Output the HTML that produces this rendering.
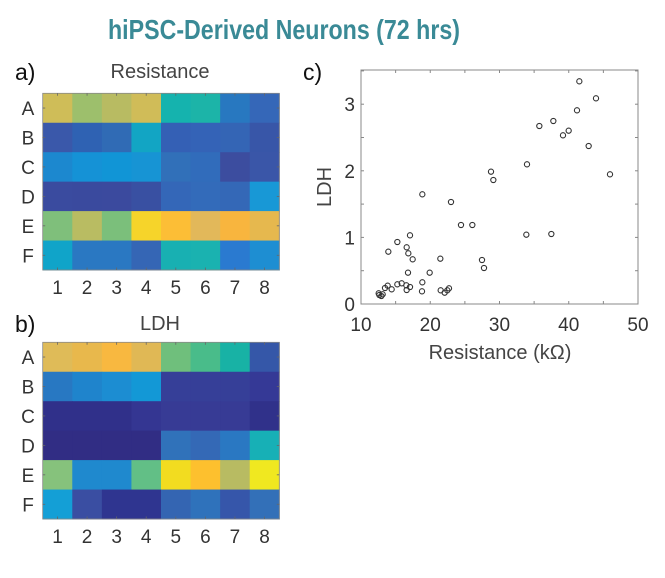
<!DOCTYPE html>
<html><head><meta charset="utf-8"><style>
body{margin:0;background:#fff;}
svg{display:block;font-family:"Liberation Sans",sans-serif;}
</style></head><body>
<svg width="665" height="578" xmlns="http://www.w3.org/2000/svg">
<text x="108" y="39" font-size="28" font-weight="bold" fill="#3a8a96" textLength="352" lengthAdjust="spacingAndGlyphs">hiPSC-Derived Neurons (72 hrs)</text>
<text x="15" y="80" font-size="23" fill="#111">a)</text>
<text x="160" y="78" font-size="20" fill="#444" text-anchor="middle">Resistance</text>
<text x="15" y="332" font-size="23" fill="#111">b)</text>
<text x="160" y="330" font-size="20" fill="#444" text-anchor="middle">LDH</text>
<text x="303" y="80" font-size="23" fill="#111">c)</text>
<g id="hm"></g>
<g id="sc"></g>
</svg>
<script>
const R=[["#cfbd58","#9dbf6c","#b8bb62","#d0bc58","#15b3ae","#1cb4a8","#2878c0","#3567b8"],
["#3a58aa","#2f62b3","#306bb5","#12a5c4","#3460b5","#3463b7","#3465b5","#3856a8"],
["#1c88cf","#1592d6","#1195d6","#1794d4","#3170b9","#316cbb","#3c4d9f","#3a56a8"],
["#3a4b9f","#3a4a9e","#3b4a9e","#3950a2","#3467b8","#336bba","#3468b7","#1898d6"],
["#7fbf7b","#b9bc62","#7bbf7b","#f6d42a","#fcbe36","#e2b85a","#f8b53e","#e6b84e"],
["#10a4c9","#2a78c2","#2a78c2","#3566b5","#18b0b2","#1ab2b0","#2a7ad0","#1e8ed2"]];
const L=[["#dfbb58","#e8b84c","#f8b840","#e0b855","#6fbf7c","#49bc8a","#18b2a5","#3557a8"],
["#2878c2","#1f84cc","#1c8dd2","#1398d6","#363f98","#363f98","#363f98","#353996"],
["#30308a","#30308a","#30308a","#343692","#373b95","#373b95","#373b95","#30318a"],
["#312d84","#312d84","#312d84","#312d84","#3072ba","#3469b6","#2a78c2","#17b0b6"],
["#86c27c","#1f89ce","#1f89ce","#62bf86","#f2dc20","#fdc02e","#b8bb62","#f0e820"],
["#149fd6","#3a4ea2","#2f3590","#2f3590","#3465b2","#2f72bb","#3656aa","#3370b8"]];
let h="";
function hm(C,x0,y0,x1,y1){const cw=(x1-x0)/8,rh=(y1-y0)/6;
for(let r=0;r<6;r++)for(let c=0;c<8;c++)h+=`<rect x="${x0+c*cw}" y="${y0+r*rh}" width="${cw+0.5}" height="${rh+0.5}" fill="${C[r][c]}"/>`;
h+=`<rect x="${x0}" y="${y0}" width="${x1-x0}" height="${y1-y0}" fill="none" stroke="#888" stroke-width="0.8"/>`;
for(let c=0;c<8;c++){const x=x0+(c+0.5)*cw;h+=`<line x1="${x}" y1="${y0}" x2="${x}" y2="${y0+2.5}" stroke="#666" stroke-width="0.8"/><line x1="${x}" y1="${y1}" x2="${x}" y2="${y1-2.5}" stroke="#666" stroke-width="0.8"/>`;}
for(let r=0;r<6;r++){const y=y0+(r+0.5)*rh;h+=`<line x1="${x0}" y1="${y}" x2="${x0+2.5}" y2="${y}" stroke="#666" stroke-width="0.8"/><line x1="${x1}" y1="${y}" x2="${x1-2.5}" y2="${y}" stroke="#666" stroke-width="0.8"/>`;}
"ABCDEF".split("").forEach((l,i)=>h+=`<text x="28" y="${y0+(i+0.5)*rh+7}" font-size="19" fill="#333" text-anchor="middle">${l}</text>`);
for(let c=0;c<8;c++)h+=`<text x="${x0+(c+0.5)*cw}" y="${y1+24}" font-size="19" fill="#333" text-anchor="middle">${c+1}</text>`;}
hm(R,42.7,93.3,279.3,270);hm(L,42.7,342.3,279.3,519);
document.getElementById("hm").innerHTML=h;
let s=`<rect x="361" y="70" width="277" height="234" fill="none" stroke="#888" stroke-width="1"/>`;
const X=v=>361+(v-10)*6.925,Y=v=>304-v*66.6;
for(let v=10;v<=50;v+=5){const x=X(v);s+=`<line x1="${x}" y1="304" x2="${x}" y2="301" stroke="#888"/><line x1="${x}" y1="70" x2="${x}" y2="73" stroke="#888"/>`;if(v%10==0)s+=`<text x="${x}" y="331" font-size="19" fill="#333" text-anchor="middle">${v}</text>`;}
for(let v=0;v<=3.5;v+=0.5){const y=Y(v);s+=`<line x1="361" y1="${y}" x2="364" y2="${y}" stroke="#888"/><line x1="638" y1="${y}" x2="635" y2="${y}" stroke="#888"/>`;if(v%1==0)s+=`<text x="355" y="${y+7}" font-size="19" fill="#333" text-anchor="end">${v}</text>`;}
s+=`<text x="500" y="359" font-size="20" fill="#444" text-anchor="middle">Resistance (kΩ)</text>`;
s+=`<text transform="translate(331,187) rotate(-90)" font-size="20" fill="#444" text-anchor="middle">LDH</text>`;
const P=[[116,700],[124,708],[128,703],[118,705],[135,684],[143,677],[155,688],[145,575],[172,546],[172,673],[185,670],[199,676],[200,690],[210,681],[200,562],[205,580],[204,638],[210,526],[218,598],[247,403],[247,667],[246,694],[269,638],[301,596],[302,691],[314,698],[322,691],[327,685],[333,426],[363,495],[397,495],[426,600],[432,624],[453,335],[460,360],[559,524],[561,313],[598,198],[634,522],[640,183],[669,226],[686,212],[711,151],[718,64],[746,258],[768,115],[810,343]];
P.forEach(p=>s+=`<circle cx="${340+p[0]/3}" cy="${60+p[1]/3}" r="2.6" fill="none" stroke="#333" stroke-width="1.1"/>`);
document.getElementById("sc").innerHTML=s;
</script>
</body></html>
